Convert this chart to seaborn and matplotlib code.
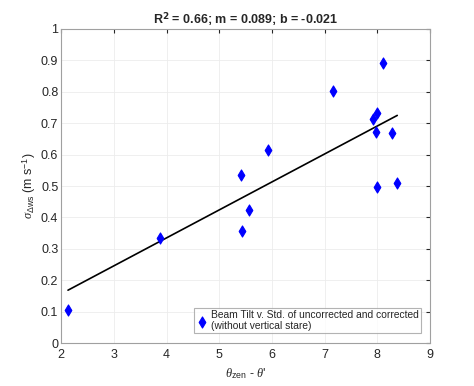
import matplotlib
matplotlib.use("Agg")
import matplotlib.pyplot as plt
import seaborn as sns
import numpy as np
import pandas as pd

# Data
beam_tilt = [2.13, 3.88, 5.42, 5.44, 5.57, 5.92, 7.16, 7.92, 8.00, 7.97, 8.10, 8.28, 7.99, 8.38]
std_dws = [0.107, 0.336, 0.536, 0.358, 0.425, 0.614, 0.803, 0.712, 0.731, 0.671, 0.891, 0.668, 0.498, 0.510]
slope = 0.089
intercept = -0.021
r2 = 0.66
legend_label = "Beam Tilt v. Std. of uncorrected and corrected\n(without vertical stare)"
x_ticks = [2, 3, 4, 5, 6, 7, 8, 9]
y_ticks = [0, 0.1, 0.2, 0.3, 0.4, 0.5, 0.6, 0.7, 0.8, 0.9, 1]

sns.set_style("whitegrid")
plt.rcParams['font.family'] = ['Liberation Sans', 'DejaVu Sans']
plt.rcParams['mathtext.fontset'] = 'custom'
plt.rcParams['mathtext.rm'] = 'Liberation Sans'
plt.rcParams['mathtext.it'] = 'Liberation Serif:italic'

df = pd.DataFrame({"x": beam_tilt, "y": std_dws})
xs = np.array([min(beam_tilt), max(beam_tilt)])
fit = pd.DataFrame({"x": xs, "y": slope * xs + intercept})

fig = plt.figure(figsize=(4.74, 3.86), dpi=100)
ax = fig.add_axes([0.129, 0.111, 0.778, 0.814])

sns.lineplot(data=fit, x="x", y="y", color="black", linewidth=1.2, ax=ax, legend=False)
sns.scatterplot(data=df, x="x", y="y", marker="d", color="#0000ff", s=32,
                edgecolor="#0000ff", linewidth=0.8, ax=ax, label=legend_label, zorder=3)

ax.set_xlim(2, 9)
ax.set_ylim(0, 1)
ax.set_xticks(x_ticks)
ax.set_yticks(y_ticks)
ax.set_xticklabels([str(t) for t in x_ticks])
ax.set_yticklabels([("%g" % t) for t in y_ticks])
ax.tick_params(labelsize=9, colors="#262626", length=3, direction="in",
               top=True, right=True)
ax.tick_params(axis="y", pad=2)
ax.tick_params(axis="x", pad=4)
ax.grid(True, color="#ececec", linewidth=0.6)
for s in ax.spines.values():
    s.set_color("#a0a0a0")
    s.set_linewidth(0.8)

ax.set_xlabel(r"$\theta_{\rm zen}$ - $\theta$'", fontsize=9, labelpad=4)
ax.set_ylabel(r"$\sigma_{\Delta \rm ws}$ (m s$^{-1}$)", fontsize=9, labelpad=2)
ax.set_title(r"R$^{\mathbf{2}}$ = %.2f; m = %.3f; b = %.3f" % (r2, slope, intercept),
             fontsize=9, fontweight="bold", pad=4)

leg = ax.legend(loc="lower right", fontsize=7.4, frameon=True, fancybox=False,
                edgecolor="#a0a0a0", handletextpad=0.3, borderpad=0.2,
                bbox_to_anchor=(0.99, 0.015), handlelength=1.2, labelspacing=0.05)
leg.get_frame().set_linewidth(0.8)

fig.savefig("out.png", dpi=100)
